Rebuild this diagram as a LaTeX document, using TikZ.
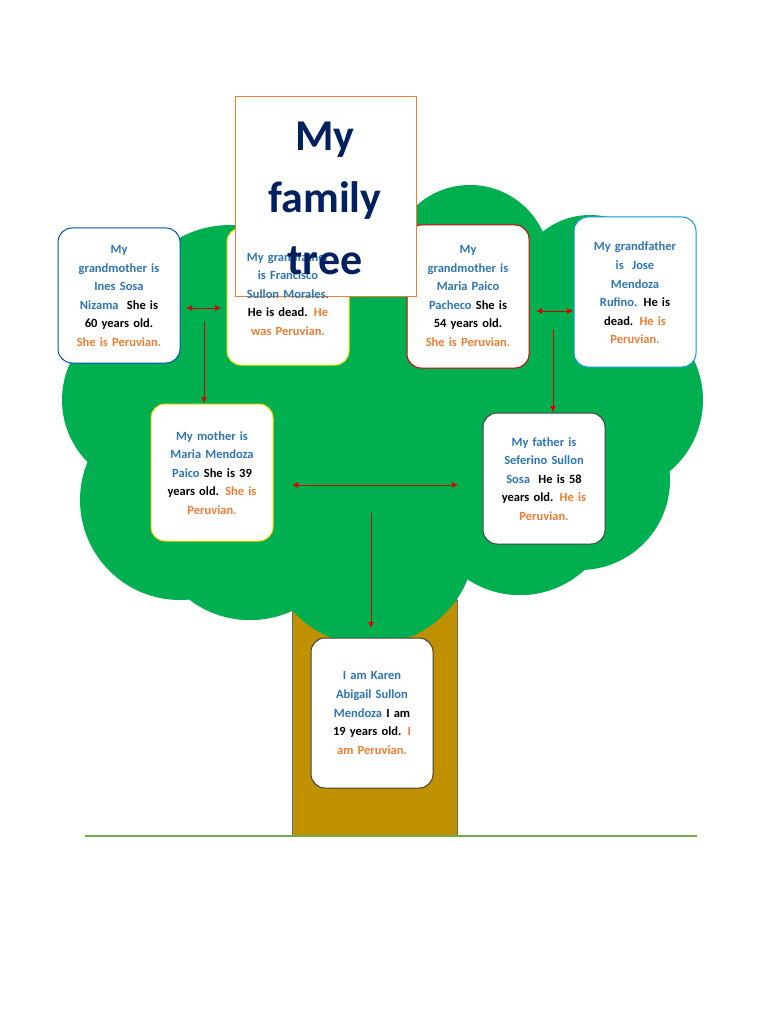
\documentclass[tikz,border=0pt]{standalone}
\usepackage{fontspec}
\setmainfont{Carlito}
\usetikzlibrary{arrows.meta}
\definecolor{myblue}{HTML}{2E75B6}
\definecolor{myor}{HTML}{ED7D31}
\definecolor{navy}{HTML}{002060}
\definecolor{leaf}{HTML}{00B050}
\definecolor{bark}{HTML}{BF9000}
\definecolor{grass}{HTML}{70AD47}
\newcommand{\bl}[1]{\textcolor{myblue}{#1}}
\newcommand{\orn}[1]{\textcolor{myor}{#1}}
\begin{document}
\begin{tikzpicture}[x=1pt,y=-1pt,
  card/.style={draw,fill=white,rounded corners=14pt,line width=1pt},
  txt/.style={align=center,font=\fontsize{12.5}{18.6}\selectfont\bfseries,text width=118pt,inner sep=0pt},
  arr/.style={red!85!black,line width=0.8pt,-{Latex[length=6pt,width=6pt]}},
  darr/.style={red!85!black,line width=0.8pt,{Latex[length=6pt,width=6pt]}-{Latex[length=6pt,width=6pt]}}]
\useasboundingbox (0,0) rectangle (768,1024);
% foliage
\fill[leaf] (230,330) circle (105) (340,265) circle (80) (470,265) circle (80)
  (590,290) circle (75) (610,400) circle (93) (150,400) circle (88)
  (180,500) circle (100) (250,520) circle (100) (370,540) circle (105)
  (520,500) circle (95) (580,480) circle (90) (380,400) circle (190);
% trunk
\draw[fill=bark,draw=black!60,line width=0.8pt] (292,600) rectangle (457,836);
\fill[leaf] (370,540) circle (105);
\fill[leaf] (250,520) circle (100) (520,500) circle (95);
\draw[grass,line width=1.5pt] (85,836) -- (697,836);
% coordinates for connectors
\coordinate (a1) at (186,308); \coordinate (a2) at (221,308);
\coordinate (b1) at (536,311); \coordinate (b2) at (573,311);
\coordinate (c1) at (204,322); \coordinate (c2) at (204,403);
\coordinate (d1) at (553,330); \coordinate (d2) at (553,412);
\coordinate (e1) at (292,485); \coordinate (e2) at (458,485);
\coordinate (f1) at (371,513); \coordinate (f2) at (371,628);
\draw[darr] (a1) -- (a2);
\draw[darr] (b1) -- (b2);
\draw[arr] (c1) -- (c2);
\draw[arr] (d1) -- (d2);
\draw[darr] (e1) -- (e2);
\draw[arr] (f1) -- (f2);
% boxes
\draw[card,draw=blue!55!cyan!70!black] (58,228) rectangle (180,363);
\node[txt] (gm1) at (119,296) {\bl{My}\\\bl{grandmother is}\\\bl{Ines Sosa}\\\bl{Nizama}\ \ She is\\60 years old.\\\orn{She is Peruvian.}};
\draw[card,draw=yellow!90!green] (227,228) rectangle (349,365);
\draw[card,draw=red!80!black] (407,225) rectangle (529,368);
\node[txt] (gm2) at (468,296) {\bl{My}\\\bl{grandmother is}\\\bl{Maria Paico}\\\bl{Pacheco} She is\\54 years old.\\\orn{She is Peruvian.}};
\draw[card,draw=cyan!80!blue] (574,217) rectangle (696,367);
\node[txt] (gf2) at (635,293) {\bl{My grandfather}\\\bl{is\ \ Jose}\\\bl{Mendoza}\\\bl{Rufino.} He is\\dead. \orn{He is}\\\orn{Peruvian.}};
\draw[card,draw=yellow!70!orange] (151,404) rectangle (273,541);
\node[txt] (mo) at (212,473) {\bl{My mother is}\\\bl{Maria Mendoza}\\\bl{Paico} She is 39\\years old. \orn{She is}\\\orn{Peruvian.}};
\draw[card,draw=black!75] (483,413) rectangle (605,544);
\node[txt] (fa) at (544,479) {\bl{My father is}\\\bl{Seferino Sullon}\\\bl{Sosa}\ \ He is 58\\years old. \orn{He is}\\\orn{Peruvian.}};
\draw[card,draw=black!75] (311,638) rectangle (433,788);
\node[txt] (me) at (372,713) {\bl{I am Karen}\\\bl{Abigail Sullon}\\\bl{Mendoza} I am\\19 years old. \orn{I}\\\orn{am Peruvian.}};
% title
\draw[fill=white,draw=myor,line width=1pt] (235,97) rectangle (416,296);
\node[txt] (gf1) at (288,294) {\bl{My grandfather}\\\bl{is Francisco}\\\bl{Sullon Morales.}\\He is dead. \orn{He}\\\orn{was Peruvian.}};
\node[align=center,text=navy,font=\fontsize{44}{62}\selectfont\bfseries,inner sep=0pt] (title) at (325,198) {My\\family\\tree};
\end{tikzpicture}
\end{document}
